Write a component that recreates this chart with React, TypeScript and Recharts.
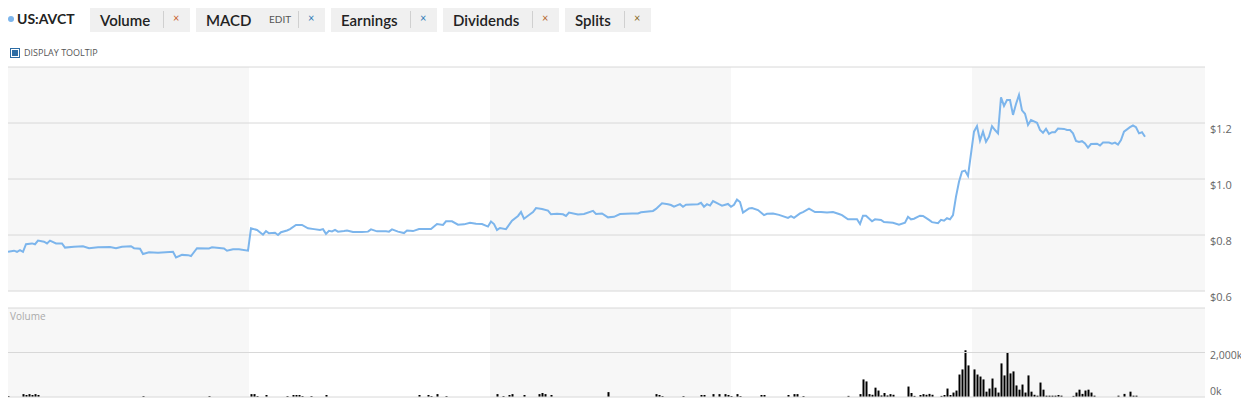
import React from 'react';
import { LineChart, Line, BarChart, Bar, XAxis, YAxis, ReferenceArea, ReferenceLine } from 'recharts';

// trading-day index (0 = first day shown) and closing price
const priceDays = [
  0, 2, 3, 4, 5, 6, 8, 9, 10, 12,
  13, 14, 16, 18, 19, 22, 25, 27, 30, 34,
  36, 38, 41, 42, 44, 45, 47, 50, 55, 56,
  58, 60, 61, 63, 67, 68, 72, 73, 75, 77,
  80, 81, 83, 85, 86, 87, 89, 90, 91, 93,
  94, 96, 98, 100, 102, 104, 105, 106, 107, 108,
  109, 110, 112, 113, 115, 118, 120, 121, 123, 126,
  127, 128, 130, 132, 133, 135, 137, 140, 141, 143,
  145, 146, 148, 150, 152, 154, 156, 158, 160, 161,
  162, 163, 164, 166, 168, 170, 171, 172, 174, 175,
  176, 178, 180, 181, 183, 185, 186, 187, 190, 192,
  195, 196, 198, 200, 202, 204, 208, 210, 211, 215,
  216, 218, 220, 221, 222, 224, 225, 226, 230, 231,
  232, 233, 234, 235, 237, 238, 240, 241, 242, 243,
  244, 245, 247, 248, 250, 252, 253, 255, 257, 260,
  261, 262, 264, 265, 267, 269, 271, 273, 275, 277,
  278, 280, 283, 284, 285, 286, 288, 289, 291, 292,
  295, 297, 299, 300, 301, 302, 304, 305, 307, 308,
  310, 311, 312, 313, 314, 315, 316, 317, 318, 319,
  320, 322, 323, 324, 325, 326, 327, 328, 329, 330,
  331, 332, 333, 334, 335, 336, 337, 338, 339, 340,
  341, 343, 344, 345, 346, 347, 348, 349, 350, 352,
  353, 354, 355, 356, 357, 358, 359, 360, 361, 363,
  364, 365, 367, 368, 369, 370, 371, 372, 374, 375,
  376, 377, 378, 379,
];

const prices = [
  0.740, 0.744, 0.740, 0.746, 0.740, 0.767, 0.770, 0.767, 0.780, 0.776,
  0.770, 0.780, 0.770, 0.770, 0.755, 0.758, 0.760, 0.753, 0.756, 0.757,
  0.753, 0.758, 0.760, 0.753, 0.751, 0.732, 0.738, 0.737, 0.740, 0.720,
  0.729, 0.728, 0.725, 0.753, 0.752, 0.756, 0.752, 0.744, 0.749, 0.749,
  0.744, 0.824, 0.818, 0.801, 0.814, 0.806, 0.808, 0.800, 0.810, 0.816,
  0.821, 0.836, 0.836, 0.824, 0.821, 0.818, 0.821, 0.804, 0.815, 0.813,
  0.818, 0.812, 0.814, 0.816, 0.811, 0.811, 0.812, 0.820, 0.813, 0.813,
  0.812, 0.820, 0.812, 0.807, 0.816, 0.814, 0.821, 0.821, 0.821, 0.839,
  0.836, 0.849, 0.849, 0.837, 0.838, 0.844, 0.840, 0.839, 0.830, 0.848,
  0.839, 0.818, 0.825, 0.821, 0.851, 0.868, 0.882, 0.858, 0.874, 0.882,
  0.896, 0.893, 0.887, 0.874, 0.876, 0.874, 0.868, 0.880, 0.873, 0.875,
  0.886, 0.875, 0.877, 0.863, 0.865, 0.875, 0.877, 0.877, 0.881, 0.886,
  0.893, 0.913, 0.910, 0.907, 0.901, 0.910, 0.901, 0.908, 0.910, 0.915,
  0.901, 0.910, 0.905, 0.921, 0.910, 0.905, 0.911, 0.901, 0.908, 0.927,
  0.918, 0.880, 0.895, 0.896, 0.889, 0.871, 0.876, 0.877, 0.872, 0.861,
  0.867, 0.861, 0.877, 0.882, 0.894, 0.882, 0.882, 0.880, 0.882, 0.875,
  0.871, 0.856, 0.856, 0.839, 0.869, 0.869, 0.849, 0.856, 0.854, 0.846,
  0.844, 0.837, 0.844, 0.865, 0.856, 0.858, 0.869, 0.868, 0.854, 0.846,
  0.842, 0.854, 0.851, 0.860, 0.856, 0.871, 0.937, 0.990, 1.027, 1.030,
  1.011, 1.169, 1.189, 1.137, 1.169, 1.133, 1.151, 1.189, 1.175, 1.163,
  1.292, 1.261, 1.282, 1.282, 1.229, 1.268, 1.300, 1.245, 1.233, 1.193,
  1.211, 1.201, 1.175, 1.165, 1.179, 1.161, 1.167, 1.167, 1.180, 1.179,
  1.175, 1.175, 1.163, 1.136, 1.132, 1.135, 1.127, 1.112, 1.125, 1.126,
  1.120, 1.130, 1.130, 1.126, 1.130, 1.123, 1.139, 1.169, 1.185, 1.191,
  1.185, 1.163, 1.167, 1.151,
];

// volume in thousands, only days with visible bars
const volumeDays = [
  0, 5, 6, 7, 8, 9, 10, 45, 67, 81,
  82, 83, 86, 93, 95, 96, 97, 98, 101, 106,
  137, 140, 141, 143, 146, 163, 165, 167, 168, 172,
  177, 178, 179, 181, 200, 216, 217, 218, 225, 231,
  232, 235, 237, 239, 240, 241, 243, 244, 251, 252,
  260, 262, 263, 265, 280, 284, 285, 286, 287, 288,
  289, 290, 291, 292, 293, 294, 295, 300, 301, 302,
  304, 305, 306, 307, 308, 311, 312, 313, 314, 315,
  316, 317, 318, 319, 320, 322, 323, 324, 325, 326,
  327, 328, 329, 330, 331, 332, 333, 334, 335, 336,
  337, 338, 339, 340, 341, 342, 343, 344, 345, 346,
  347, 348, 349, 350, 351, 355, 356, 357, 358, 359,
  360, 361, 362, 370, 372, 374, 375, 376,
];

const volumes = [
  50, 130, 90, 130, 90, 130, 90, 45, 45, 130,
  130, 45, 90, 45, 90, 90, 90, 45, 45, 90,
  90, 90, 45, 130, 45, 130, 45, 90, 130, 90,
  130, 180, 130, 90, 220, 130, 90, 45, 45, 90,
  90, 130, 130, 130, 90, 45, 130, 45, 90, 90,
  90, 130, 130, 45, 50, 130, 790, 700, 130, 100,
  420, 290, 70, 180, 70, 130, 100, 470, 180, 50,
  90, 130, 100, 140, 100, 50, 90, 380, 90, 200,
  290, 1010, 1240, 2100, 1420, 1240, 1010, 920, 790, 240,
  380, 830, 420, 200, 1510, 970, 2010, 1060, 1150, 520,
  330, 560, 200, 970, 240, 100, 60, 650, 330, 60,
  60, 60, 60, 90, 60, 50, 200, 330, 140, 290,
  330, 200, 60, 60, 140, 240, 60, 60,
];

const priceTicks = [0.6, 0.8, 1.0, 1.2, 1.4];
const volumeTicks = [0, 2000, 4000];
const dayDomain = [0, 399];
// alternate shaded periods, in trading days
const shadedPeriods = [
  [0, 80.33],
  [160.67, 241],
  [321.33, 399],
];

const toggles = [
  { label: 'Volume', left: 90, width: 100, close: '#c8602c' },
  { label: 'MACD', left: 196, width: 129, close: '#2b78b5', edit: true },
  { label: 'Earnings', left: 331, width: 106, close: '#2b78b5' },
  { label: 'Dividends', left: 443, width: 116, close: '#b5652a' },
  { label: 'Splits', left: 565, width: 86, close: '#8a6a1e' },
];

const priceData = priceDays.map((d, i) => ({ d, p: prices[i] }));
const volumeData = volumeDays.map((d, i) => ({ d, v: volumes[i] }));

const LINE = '#7cb5ec';
const GRID = '#d8d8d8';
const SHADE = '#f7f7f7';
const tickFont = '"Open Sans", Arial, sans-serif';

const PriceTick = (props: any) => {
  const { x, y, payload } = props;
  if (payload.value >= 1.4) return null;
  return (
    <text x={x} y={y + 10} fill="#666" fontSize={11} fontFamily={tickFont} textAnchor="start">
      ${payload.value.toFixed(1)}
    </text>
  );
};

const VolumeTick = (props: any) => {
  const { x, y, payload } = props;
  if (payload.value >= 4000) return null;
  const dy = payload.value === 0 ? -2 : 6;
  return (
    <text x={x} y={y + dy} fill="#666" fontSize={10.5} fontFamily={tickFont} textAnchor="start">
      {payload.value.toLocaleString('en-US')}k
    </text>
  );
};

const Header = () => (
  <>
    <div style={{ position: 'absolute', left: 8, top: 16, width: 6, height: 6, borderRadius: 3, background: LINE }} />
    <div style={{ position: 'absolute', left: 17, top: 9, fontFamily: 'Lato, sans-serif', fontWeight: 700, fontSize: 14, color: '#222', lineHeight: '20px' }}>
      US:AVCT
    </div>
    {toggles.map((t) => (
      <div
        key={t.label}
        style={{
          position: 'absolute',
          left: t.left,
          top: 7,
          width: t.width,
          height: 25,
          background: '#f0f0f0',
          fontFamily: 'Lato, sans-serif',
        }}
      >
        <span style={{ position: 'absolute', left: 10, top: 3, fontSize: 15, fontWeight: 600, color: '#222', lineHeight: '20px' }}>
          {t.label}
        </span>
        {t.edit && (
          <span style={{ position: 'absolute', left: t.width - 56, top: 5, fontSize: 10, color: '#555', lineHeight: '14px' }}>EDIT</span>
        )}
        <div style={{ position: 'absolute', left: t.width - 27, top: 4, width: 1, height: 17, background: '#d0d0d0' }} />
        <span style={{ position: 'absolute', left: t.width - 17, top: 4, fontSize: 11, color: t.close, lineHeight: '14px' }}>×</span>
      </div>
    ))}
    <div style={{ position: 'absolute', left: 10, top: 48, width: 8, height: 8, border: '1px solid #2c6ca4', background: '#fff' }}>
      <div style={{ position: 'absolute', left: 1, top: 1, width: 6, height: 6, background: '#2c6ca4' }} />
    </div>
    <div style={{ position: 'absolute', left: 24, top: 47, fontFamily: tickFont, fontSize: 9, color: '#555', lineHeight: '12px' }}>
      DISPLAY TOOLTIP
    </div>
  </>
);

export default function App() {
  return (
    <div style={{ position: 'relative', margin: -8, width: 1249, height: 408, background: '#fff', overflow: 'hidden' }}>
      <Header />
      <div style={{ position: 'absolute', left: 8, top: 62 }}>
        <LineChart width={1241} height={245} data={priceData} margin={{ top: 5, right: 0, bottom: 16, left: 0 }}>
          <XAxis dataKey="d" type="number" domain={dayDomain} hide allowDataOverflow />
          <YAxis
            orientation="right"
            width={44}
            domain={[0.6, 1.4]}
            ticks={priceTicks}
            interval={0}
            axisLine={false}
            tickLine={false}
            tickSize={0}
            tickMargin={5}
            tick={<PriceTick />}
            allowDataOverflow
          />
          {shadedPeriods.map(([a, b]) => (
            <ReferenceArea key={a} x1={a} x2={b} fill={SHADE} fillOpacity={1} stroke="none" ifOverflow="hidden" />
          ))}
          {priceTicks.map((t) => (
            <ReferenceLine key={t} y={t} stroke={GRID} strokeWidth={1} ifOverflow="extendDomain" />
          ))}
          <Line type="linear" dataKey="p" stroke={LINE} strokeWidth={2} dot={false} isAnimationActive={false} />
        </LineChart>
      </div>
      <div style={{ position: 'absolute', left: 8, top: 303 }}>
        <BarChart width={1241} height={100} data={volumeData} margin={{ top: 5, right: 0, bottom: 6, left: 0 }}>
          <XAxis dataKey="d" type="number" domain={dayDomain} hide allowDataOverflow />
          <YAxis
            orientation="right"
            width={44}
            domain={[0, 4000]}
            ticks={volumeTicks}
            interval={0}
            axisLine={false}
            tickLine={false}
            tickSize={0}
            tickMargin={5}
            tick={<VolumeTick />}
          />
          {shadedPeriods.map(([a, b]) => (
            <ReferenceArea key={a} x1={a} x2={b} fill={SHADE} fillOpacity={1} stroke="none" ifOverflow="hidden" />
          ))}
          {volumeTicks.map((t) => (
            <ReferenceLine key={t} y={t} stroke={GRID} strokeWidth={1} ifOverflow="extendDomain" />
          ))}
          <Bar dataKey="v" fill="#000" barSize={2} isAnimationActive={false} />
        </BarChart>
        <div style={{ position: 'absolute', left: 2, top: 6, fontFamily: tickFont, fontSize: 10, color: '#aaa' }}>Volume</div>
      </div>
    </div>
  );
}
